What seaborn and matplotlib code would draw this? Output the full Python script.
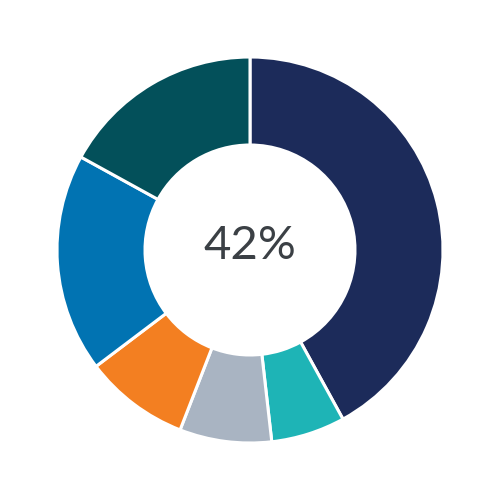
import matplotlib
matplotlib.use("Agg")
import matplotlib.pyplot as plt
import seaborn as sns

# share of each segment, clockwise from 12 o'clock
segments = ["Navy", "Teal", "Gray", "Orange", "Blue", "Green"]
shares = [42, 6.2, 7.7, 8.8, 18.3, 17]
colors = ["#1c2b5a", "#1eb4b6", "#a9b4c2", "#f37f21", "#0173b2", "#03505a"]
center_label = "42%"

sns.set_theme(style="white")
plt.rcParams["font.family"] = ["Lato", "DejaVu Sans"]

fig = plt.figure(figsize=(5, 5), dpi=100)
ax = fig.add_axes([0, 0, 1, 1])

ax.pie(shares, colors=colors, startangle=90, counterclock=False,
       radius=1, wedgeprops=dict(width=0.456, edgecolor="white", linewidth=2.2))

ax.text(0, 0.02, center_label, ha="center", va="center",
        fontsize=34, fontweight="normal", color="#3b4045")

lim = 250 / 193
ax.set_xlim(-lim, lim)
ax.set_ylim(-lim, lim)
ax.set_aspect("equal")
ax.axis("off")

fig.savefig("out.png", dpi=100, facecolor="white")
